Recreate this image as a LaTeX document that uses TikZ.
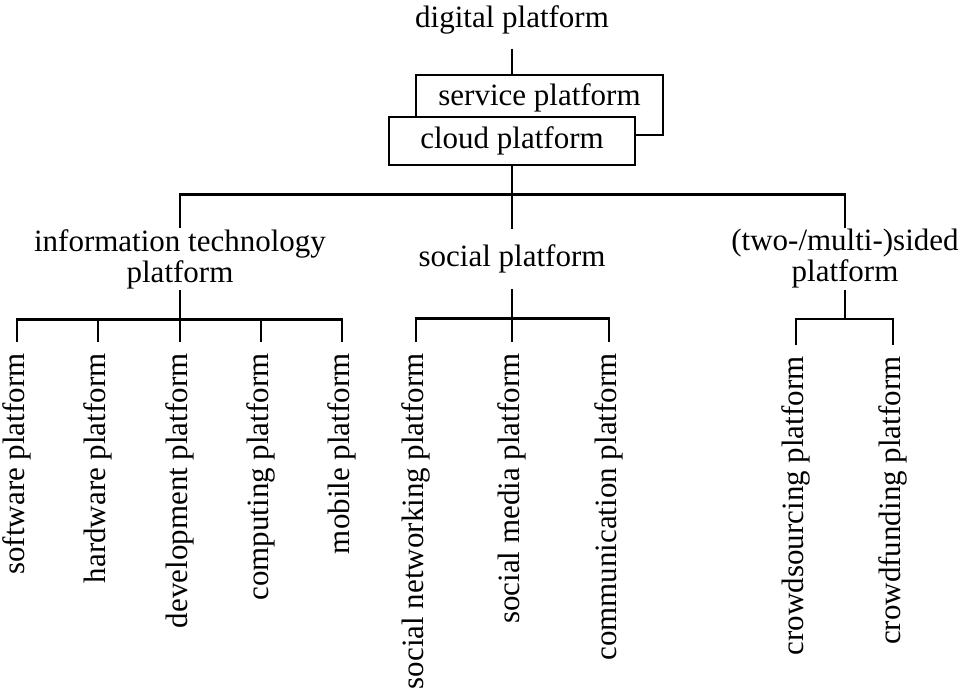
\documentclass[tikz,border=0pt]{standalone}
\usepackage{fontspec}
\setmainfont{Liberation Serif}
\tikzset{
  plat/.style={inner sep=0pt, font=\fontsize{31}{31}\selectfont},
  platbox/.style={draw, fill=white, inner sep=0pt},
  group/.style={plat, align=center, minimum height=58pt},
  leaf/.style={plat, rotate=90, anchor=east, inner xsep=10pt, inner ysep=0pt},
}
\begin{document}
\begin{tikzpicture}[x=1pt,y=-1pt,line width=2.8pt]
	    \useasboundingbox (0,0) rectangle (974,699);
	    % top
	    \node[plat] (digital) at (512,20) {digital platform};
	    \node[platbox, minimum width=247pt, minimum height=60pt] (service) at (539.5,105) {};
	    \node[plat] (servicetxt) at (539.5,98) {service platform};
	    \node[plat, platbox, minimum width=246pt, minimum height=48pt] (cloud) at (512,141) {cloud platform};
	    \draw[shorten <=13pt] (digital.south) -- (digital.south |- service.north);
	    % second level
	    \node[group] (itp) at (180,259) {information technology\\platform};
	    \node[group] (social) at (512,259) {social platform};
	    \node[group] (sided) at (845,259) {(two-/multi-)sided\\platform};
	    \draw (cloud.south) -- ++(0,28) coordinate (hub);
	    \draw (itp.north) |- (hub) -| (sided.north);
	    \draw (hub) -- (social.north);
	    % leaves
	    \foreach \x/\nm/\txt in {17/sw/software platform, 98/hw/hardware platform,
	        180/dev/development platform, 261/comp/computing platform, 342/mob/mobile platform,
	        416/net/social networking platform, 512/media/social media platform,
	        609/comm/communication platform}
	        \node[leaf] (\nm) at (\x,342) {\txt};
	    \node[leaf] (src) at (796,345) {crowdsourcing platform};
	    \node[leaf] (fund) at (893,345) {crowdfunding platform};
	    \draw (itp.south) -- ++(0,29) coordinate (ithub);
	    \draw (sw.east) |- (ithub) -| (mob.east);
	    \foreach \nm in {hw,dev,comp}
	        \draw (\nm.east) -- (\nm.east |- ithub);
	    \draw (social.south) -- ++(0,29) coordinate (sochub);
	    \draw (net.east) |- (sochub) -| (comm.east);
	    \draw (media.east) -- (sochub);
	    \draw (sided.south) -- ++(0,29) coordinate (sidhub);
	    \draw (src.east) |- (sidhub) -| (fund.east);
	\end{tikzpicture}
\end{document}
